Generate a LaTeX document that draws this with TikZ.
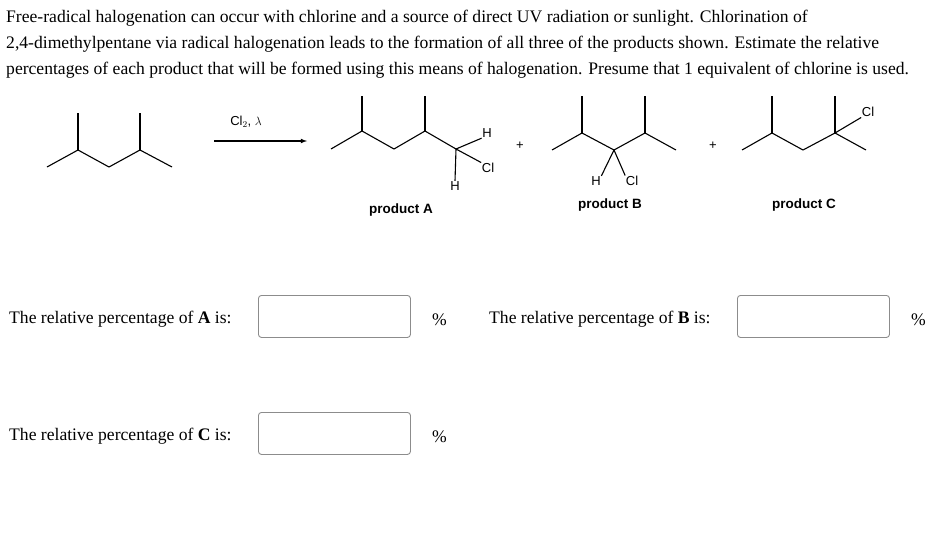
\documentclass[tikz,border=0pt]{standalone}
\usepackage{fontspec}
\setmainfont{Liberation Serif}
\newfontfamily\molfont{Liberation Sans}
\begin{document}
\begin{tikzpicture}[x=1pt,y=-1pt,
  txt/.style={anchor=west,inner sep=0pt,font=\fontsize{17.6}{20}\selectfont},
  bond/.style={line width=1.1pt},
  atom/.style={inner sep=0.5pt,font=\molfont\fontsize{13}{15}\selectfont},
  plbl/.style={font=\molfont\bfseries\fontsize{13.5}{16}\selectfont},
  ansbox/.style={draw=black!45,rounded corners=3pt,line width=0.9pt,minimum width=152pt,minimum height=42pt,anchor=north west}]
\useasboundingbox (0,0) rectangle (942,552);
\node[txt] (l1) at (6,18) {Free-radical halogenation can occur with chlorine and a source of direct UV radiation or sunlight. Chlorination of};
\node[txt] (l2) at (6,44) {2,4-dimethylpentane via radical halogenation leads to the formation of all three of the products shown. Estimate the relative};
\node[txt] (l3) at (6,70) {percentages of each product that will be formed using this means of halogenation. Presume that 1 equivalent of chlorine is used.};
% starting material
\draw[bond] (47,167)--(78,150)--(109,167)--(140,150)--(172,167);
\draw[bond] (78,150)--(78,113);
\draw[bond] (140,150)--(140,113);
% arrow
\coordinate (a1) at (214,141); \coordinate (a2) at (307,141);
\draw[bond,-latex] (a1)--(a2);
\node[atom] (cond) at (246,122) {Cl$_2$, $\lambda$};
% product A
\draw[bond] (331,149)--(362,131)--(394,149)--(425,131)--(456,149);
\draw[bond] (362,131)--(362,96);
\draw[bond] (425,131)--(425,96);
\node[atom] (ah1) at (487,133) {H};
\node[atom] (acl) at (488,168) {Cl};
\node[atom] (ah2) at (455,186) {H};
\draw[bond] (456,149)--(ah1.south west);
\draw[bond] (456,149)--(acl.north west);
\draw[bond] (456,149)--(ah2.north);
\node[plbl] (pa) at (401,210) {product A};
\node[atom] (p1) at (520,146) {+};
% product B
\draw[bond] (552,150)--(582,133)--(614,150)--(645,133)--(676,150);
\draw[bond] (582,133)--(582,96);
\draw[bond] (645,133)--(645,96);
\node[atom] (bh) at (596,181) {H};
\node[atom] (bcl) at (632,181) {Cl};
\draw[bond] (614,150)--(bh.north east);
\draw[bond] (614,150)--(bcl.north west);
\node[plbl] (pb) at (610,205) {product B};
\node[atom] (p2) at (713,146) {+};
% product C
\draw[bond] (742,150)--(772,133)--(803,150)--(835,133)--(866,150);
\draw[bond] (772,133)--(772,96);
\draw[bond] (835,133)--(835,96);
\node[atom] (ccl) at (868,112) {Cl};
\draw[bond] (835,133)--(ccl.south west);
\node[plbl] (pc) at (804,205) {product C};
% answers
\node[txt] (qa) at (9,319) {The relative percentage of \textbf{A} is:};
\node[ansbox] (ba) at (258,295) {};
\node[txt] (pca) at (432,320) {\%};
\node[txt] (qb) at (489,319) {The relative percentage of \textbf{B} is:};
\node[ansbox] (bb) at (737,295) {};
\node[txt] (pcb) at (911,320) {\%};
\node[txt] (qc) at (9,436) {The relative percentage of \textbf{C} is:};
\node[ansbox] (bc) at (258,412) {};
\node[txt] (pcc) at (432,437) {\%};
\end{tikzpicture}
\end{document}
